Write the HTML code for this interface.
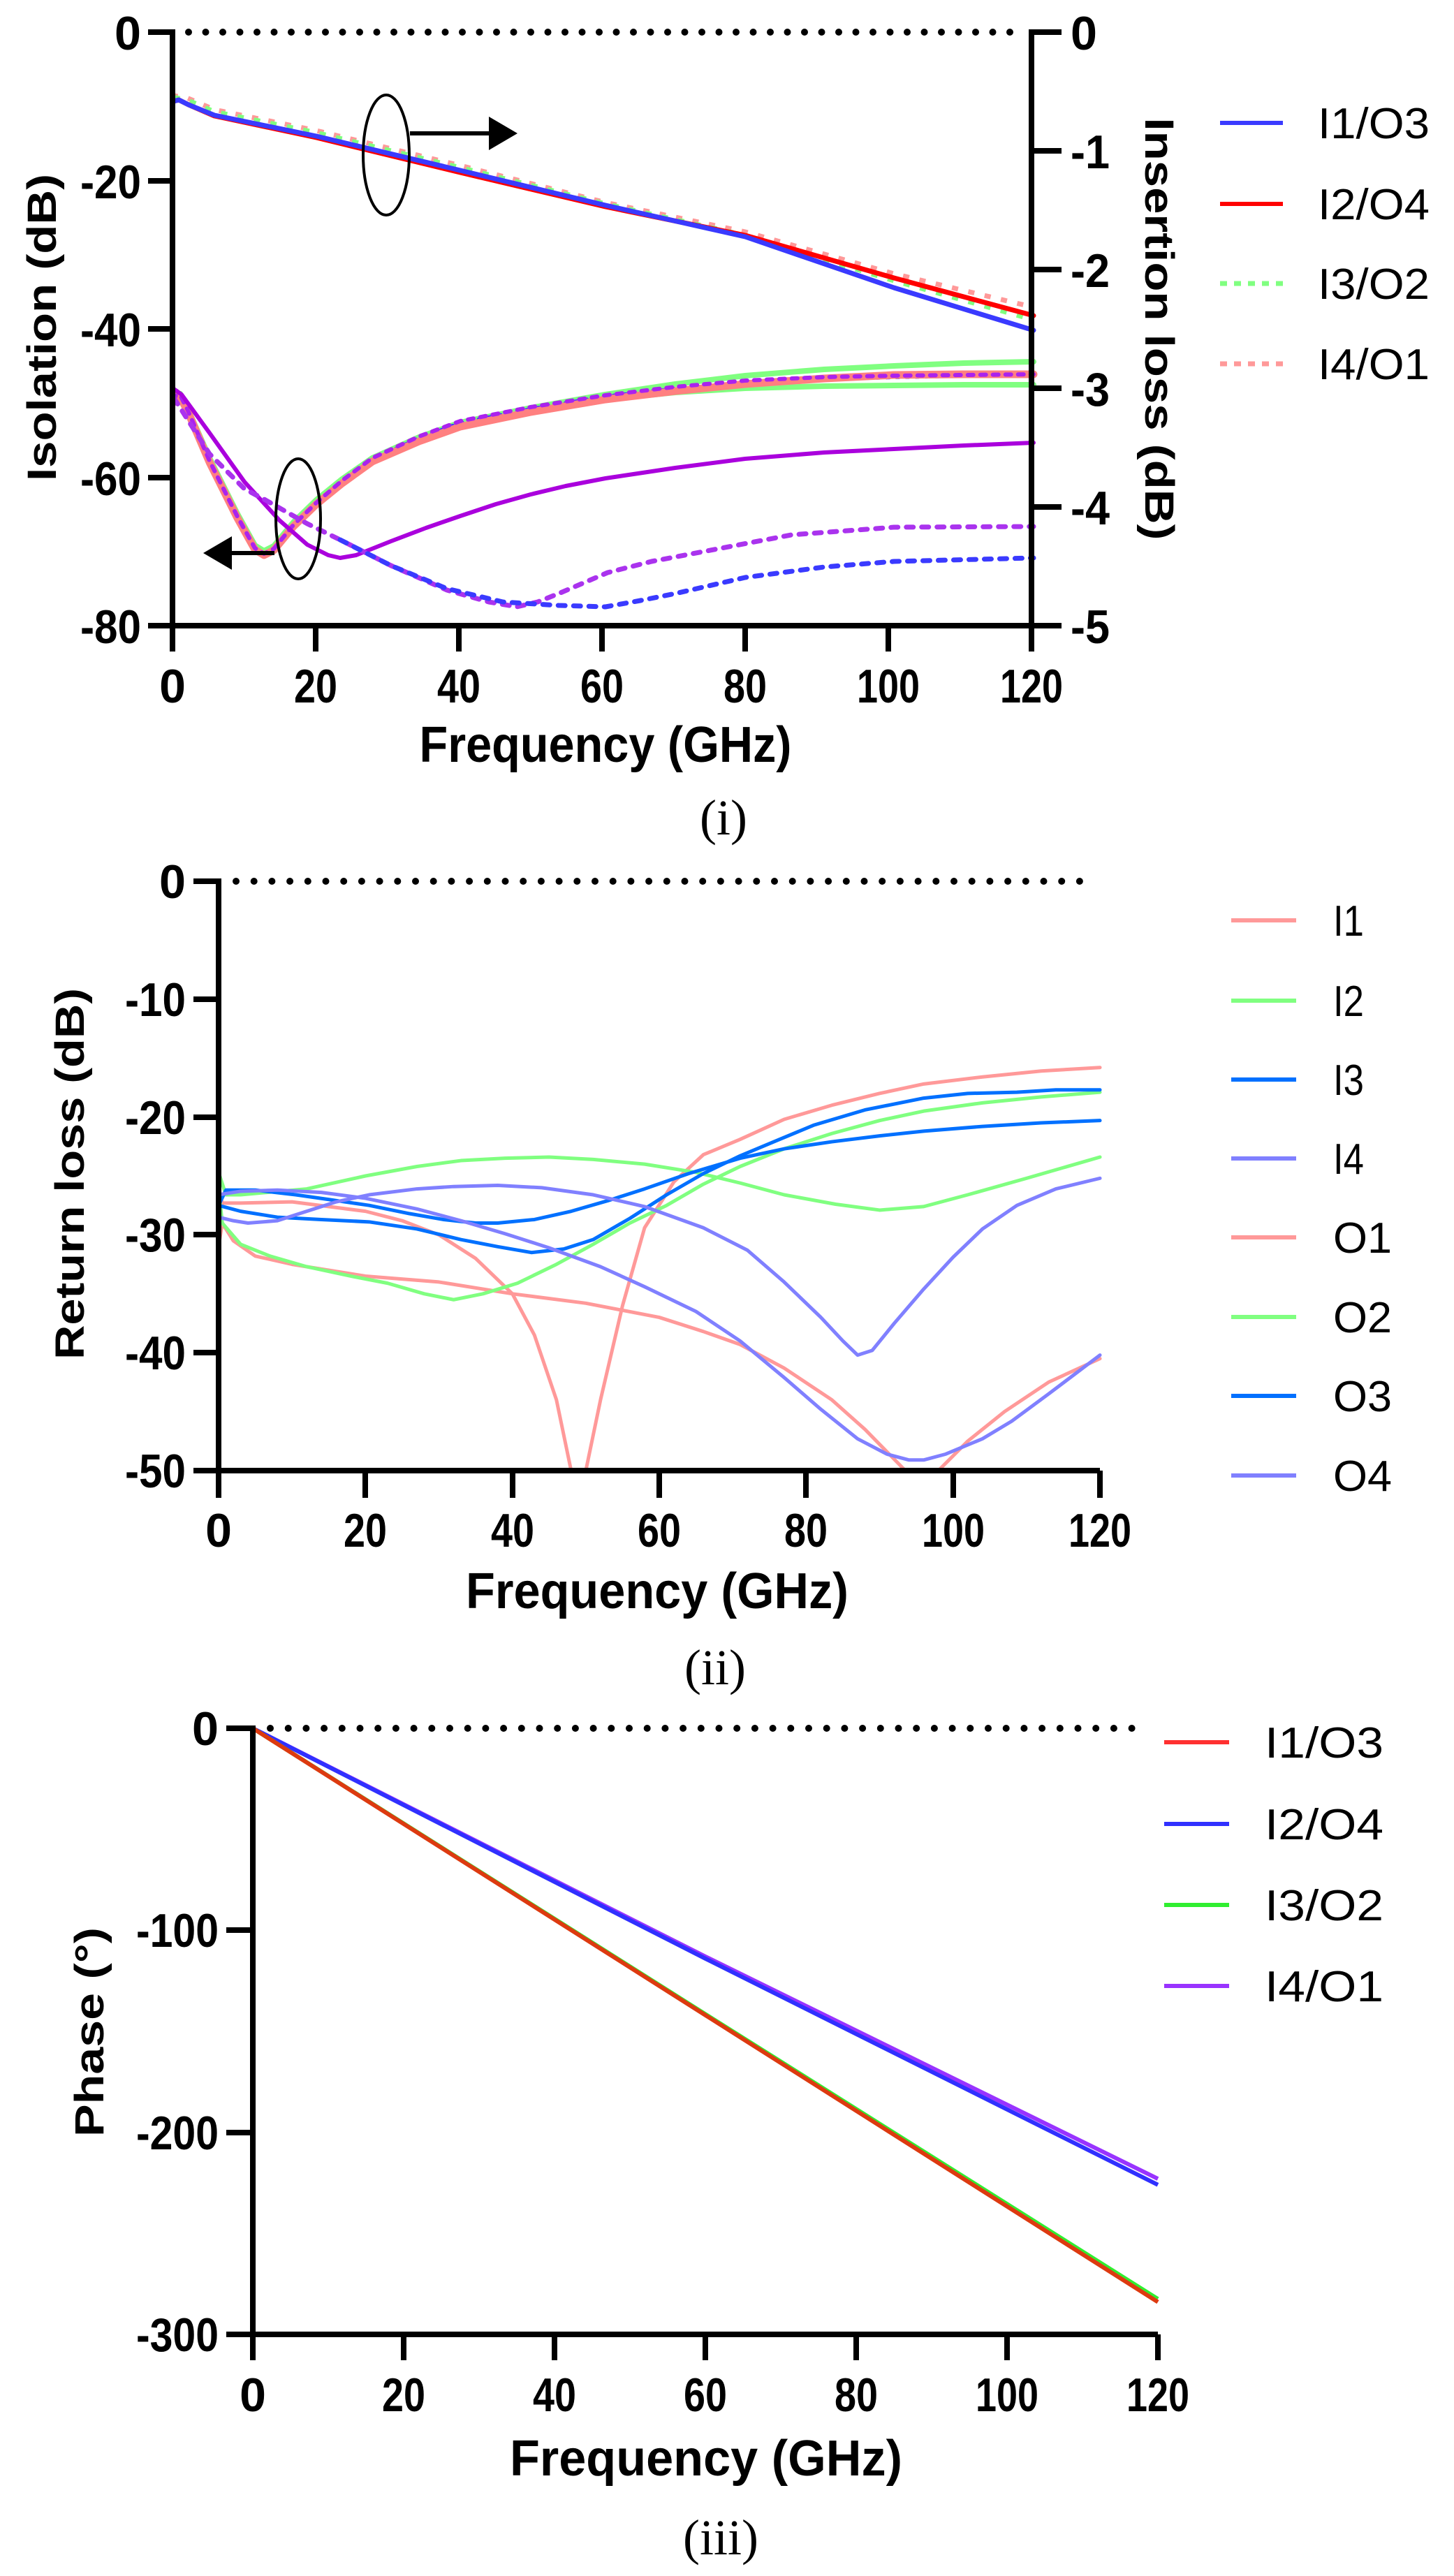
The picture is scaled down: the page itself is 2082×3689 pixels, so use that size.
<!DOCTYPE html>
<html><head><meta charset="utf-8"><style>
html,body{margin:0;padding:0;background:#fff}
svg{display:block}
.tk{font-family:"Liberation Sans",sans-serif;font-weight:bold;font-size:68px}
.lg{font-family:"Liberation Sans",sans-serif;font-size:62px}
.yl{font-family:"Liberation Sans",sans-serif;font-weight:bold;font-size:58px}
.xl{font-family:"Liberation Sans",sans-serif;font-weight:bold;font-size:72px}
.cap{font-family:"Liberation Serif",serif;font-size:72px}
</style></head><body>
<svg width="2082" height="3689" viewBox="0 0 2082 3689" xmlns="http://www.w3.org/2000/svg">
<rect width="2082" height="3689" fill="#fff"/>

<!-- ================= PLOT 1 ================= -->
<g fill="none" stroke-linejoin="round" stroke-linecap="round">
<polyline stroke="#ff9999" stroke-width="7" stroke-dasharray="2 22" stroke-linecap="square" points="249,137 270,141 307,157 453,187 659,237 867,290 1067,332 1280,392 1480,440"/>
<polyline stroke="#80ff80" stroke-width="7" stroke-dasharray="2 22" stroke-linecap="square" points="252,140 270,144 307,160 453,190 659,240 867,292 1067,337 1280,402 1480,458"/>
<polyline stroke="#ff0000" stroke-width="7" points="249,145 256,143 270,150 307,166 453,197 659,247 867,296 1067,337 1280,398 1480,452"/>
<polyline stroke="#3a3aff" stroke-width="7" points="249,145 256,143 270,150 307,165 453,195 659,244 867,294 1067,339 1280,412 1480,473"/>
<polyline stroke="#80ff80" stroke-width="8" points="249,572 252,564 258,564 270,588 300,656 340,736 365,781 378,789 392,782 420,748 453,716 490,686 533,656 600,628 659,607 760,588 867,572 967,562 1067,556 1180,553 1280,552 1380,551 1480,551"/>
<polyline stroke="#80ff80" stroke-width="8" points="249,572 252,564 258,564 270,588 300,656 340,736 365,781 378,789 392,782 420,748 453,716 490,686 533,656 600,626 659,605 760,584 867,565 967,550 1067,538 1180,529 1280,524 1380,520 1480,518"/>
<polyline stroke="#3a3aff" stroke-width="6" stroke-dasharray="4 10" points="249,574 252,566 258,566 270,590 300,660 340,740 365,785 378,793 392,786 420,752 453,720 490,690 533,658 600,628 659,606 760,586 867,568 967,557 1067,549 1180,543 1280,540 1480,536"/>
<polyline stroke="#ff8080" stroke-width="11" points="249,576 252,568 258,568 270,592 300,662 340,742 365,787 378,795 392,788 420,754 453,722 490,692 533,661 600,632 659,611 760,590 867,572 967,560 1067,550 1180,542 1280,537 1380,536 1480,536"/>
<polyline stroke="#aa22ee" stroke-width="6" stroke-dasharray="8 10" points="249,574 252,566 258,566 270,590 300,660 340,740 365,785 378,793 392,786 420,752 453,720 490,688 533,656 600,625 659,603 760,583 867,566 967,554 1067,545 1180,540 1280,538 1480,536"/>
<polyline stroke="#aa00dd" stroke-width="6" points="249,557 260,565 300,620 350,690 400,745 440,780 470,795 487,799 510,795 560,775 610,756 659,739 710,722 760,708 810,696 867,685 967,670 1067,657 1180,648 1280,643 1380,638 1480,634"/>
<polyline stroke="#aa33ee" stroke-width="7" stroke-dasharray="10 12" points="249,570 300,650 350,700 380,716 440,750 487,773 560,810 640,845 700,862 740,869 770,862 800,850 870,820 933,804 1033,785 1133,766 1280,755 1480,754"/>
<polyline stroke="#3a3aff" stroke-width="7" stroke-dasharray="10 12" points="487,773 560,810 640,843 720,862 800,867 867,869 917,860 967,850 1067,827 1180,812 1280,804 1480,799"/>
</g>
<line x1="270" y1="46" x2="1470" y2="46" stroke="#000" stroke-width="10" stroke-linecap="round" stroke-dasharray="0 24.5"/>
<g stroke="#000" stroke-width="8" fill="none">
<line x1="247" y1="42" x2="247" y2="933"/>
<line x1="1477" y1="42" x2="1477" y2="933"/>
<line x1="212" y1="896" x2="1520" y2="896"/>
<line x1="212" y1="46" x2="247" y2="46"/>
<line x1="212" y1="259" x2="247" y2="259"/>
<line x1="212" y1="471" x2="247" y2="471"/>
<line x1="212" y1="684" x2="247" y2="684"/>
<line x1="1477" y1="46" x2="1520" y2="46"/>
<line x1="1477" y1="216" x2="1520" y2="216"/>
<line x1="1477" y1="386" x2="1520" y2="386"/>
<line x1="1477" y1="556" x2="1520" y2="556"/>
<line x1="1477" y1="726" x2="1520" y2="726"/>
<line x1="452" y1="896" x2="452" y2="933"/>
<line x1="657" y1="896" x2="657" y2="933"/>
<line x1="862" y1="896" x2="862" y2="933"/>
<line x1="1067" y1="896" x2="1067" y2="933"/>
<line x1="1272" y1="896" x2="1272" y2="933"/>
</g>
<g stroke="#000" stroke-width="4" fill="none">
<ellipse cx="553" cy="222" rx="33" ry="86"/>
<ellipse cx="427" cy="743" rx="32" ry="86"/>
<line x1="587" y1="191" x2="710" y2="191" stroke-width="6"/>
<line x1="393" y1="792" x2="320" y2="792" stroke-width="6"/>
</g>
<polygon points="700,167 741,191 700,215" fill="#000"/>
<polygon points="332,768 291,792 332,816" fill="#000"/>
<g class="tk" text-anchor="end">
<text x="202" y="71" textLength="38" lengthAdjust="spacingAndGlyphs">0</text>
<text x="202" y="284" textLength="87" lengthAdjust="spacingAndGlyphs">-20</text>
<text x="202" y="496" textLength="87" lengthAdjust="spacingAndGlyphs">-40</text>
<text x="202" y="709" textLength="87" lengthAdjust="spacingAndGlyphs">-60</text>
<text x="202" y="921" textLength="87" lengthAdjust="spacingAndGlyphs">-80</text>
</g>
<g class="tk">
<text x="1533" y="71" textLength="38" lengthAdjust="spacingAndGlyphs">0</text>
<text x="1533" y="241" textLength="56" lengthAdjust="spacingAndGlyphs">-1</text>
<text x="1533" y="411" textLength="56" lengthAdjust="spacingAndGlyphs">-2</text>
<text x="1533" y="581" textLength="56" lengthAdjust="spacingAndGlyphs">-3</text>
<text x="1533" y="751" textLength="56" lengthAdjust="spacingAndGlyphs">-4</text>
<text x="1533" y="921" textLength="56" lengthAdjust="spacingAndGlyphs">-5</text>
</g>
<g class="tk" text-anchor="middle">
<text x="247" y="1006">0</text>
<text x="452" y="1006" textLength="62" lengthAdjust="spacingAndGlyphs">20</text>
<text x="657" y="1006" textLength="62" lengthAdjust="spacingAndGlyphs">40</text>
<text x="862" y="1006" textLength="62" lengthAdjust="spacingAndGlyphs">60</text>
<text x="1067" y="1006" textLength="62" lengthAdjust="spacingAndGlyphs">80</text>
<text x="1272" y="1006" textLength="90" lengthAdjust="spacingAndGlyphs">100</text>
<text x="1477" y="1006" textLength="90" lengthAdjust="spacingAndGlyphs">120</text>
</g>
<text class="xl" x="867" y="1091" text-anchor="middle" textLength="533" lengthAdjust="spacingAndGlyphs">Frequency (GHz)</text>
<text class="yl" transform="translate(80,469) rotate(-90)" text-anchor="middle" textLength="440" lengthAdjust="spacingAndGlyphs">Isolation (dB)</text>
<text class="yl" transform="translate(1640,471) rotate(90)" text-anchor="middle" textLength="605" lengthAdjust="spacingAndGlyphs">Insertion loss (dB)</text>
<text class="cap" x="1036" y="1195" text-anchor="middle">(i)</text>
<g stroke-width="6">
<line x1="1747" y1="176" x2="1837" y2="176" stroke="#3a3aff"/>
<line x1="1747" y1="292" x2="1837" y2="292" stroke="#ff0000"/>
<line x1="1747" y1="406" x2="1837" y2="406" stroke="#80ff80" stroke-width="7" stroke-dasharray="10 10"/>
<line x1="1747" y1="521" x2="1837" y2="521" stroke="#ff9999" stroke-width="7" stroke-dasharray="10 10"/>
</g>
<g class="lg">
<text x="1887" y="198" textLength="160" lengthAdjust="spacingAndGlyphs">I1/O3</text>
<text x="1887" y="314" textLength="160" lengthAdjust="spacingAndGlyphs">I2/O4</text>
<text x="1887" y="428" textLength="160" lengthAdjust="spacingAndGlyphs">I3/O2</text>
<text x="1887" y="543" textLength="160" lengthAdjust="spacingAndGlyphs">I4/O1</text>
</g>

<!-- ================= PLOT 2 ================= -->
<g transform="translate(313,1262) scale(10.517,16.88)" fill="none" stroke-width="5" stroke-linejoin="round" stroke-linecap="round">
<polyline vector-effect="non-scaling-stroke" stroke="#ff9999" points="0,26 0.5,27.3 3,27.3 10,27.2 20,28 25,28.8 30,30 35,32 40,35 43,38.5 46,44 48,50"/>
<polyline vector-effect="non-scaling-stroke" stroke="#ff9999" points="50,50 52,44 55,36 58,29.4 62,25.5 66,23.2 71,21.9 77,20.2 83.5,19 90,18 96,17.2 104,16.6 112,16.1 120,15.8"/>
<polyline vector-effect="non-scaling-stroke" stroke="#ff9999" points="0,31 0.5,29 2,30.5 5,31.8 10,32.5 20,33.5 30,34 40,35 50,35.8 60,37 66,38.2 71,39.3 77,41.3 83.5,44 88,46.5 93.5,50"/>
<polyline vector-effect="non-scaling-stroke" stroke="#ff9999" points="98,50 102,47.5 107,45 113,42.5 120,40.5"/>
<polyline vector-effect="non-scaling-stroke" stroke="#80ff80" points="0,24.7 1,26.6 3,26.6 12,26.1 20,25 27,24.2 33,23.7 39,23.5 45,23.4 51,23.6 58,24 65,24.7 71,25.6 77,26.6 84,27.4 90,27.9 96,27.6 102,26.6 110,25.2 120,23.4"/>
<polyline vector-effect="non-scaling-stroke" stroke="#80ff80" points="0,26 0.5,29 3,30.8 7,31.8 12,32.7 18,33.5 23,34.1 28,35 32,35.5 36,35 40.7,34.1 46,32.5 51,30.8 56,29 61,27.5 66,25.7 71,24.2 77,22.7 83.5,21.4 90,20.3 96,19.5 104,18.8 112,18.3 120,17.9"/>
<polyline vector-effect="non-scaling-stroke" stroke="#0070ff" points="0,27.5 1,26.2 5,26.2 10.5,26.6 15,27 20.5,27.5 26,28.2 30.6,28.7 35,29 38,29 43,28.7 48,28 53,27.1 58,26.1 64,24.8 71,23.5 77,22.7 83.5,22.1 90,21.6 96,21.2 104,20.8 112,20.5 120,20.3"/>
<polyline vector-effect="non-scaling-stroke" stroke="#0070ff" points="0,27.5 3,28 8,28.5 14,28.7 20.5,28.9 27,29.5 33,30.4 38,31 42.6,31.5 47,31.2 51,30.4 56,28.6 61,26.6 66,24.8 71,23.3 76,22 81,20.7 88,19.4 96,18.4 102,18 108.7,17.9 114,17.7 120,17.7"/>
<polyline vector-effect="non-scaling-stroke" stroke="#8080ff" points="0,28.5 2,28.8 4,29 8,28.8 12,28 16,27.2 20.5,26.6 27,26.1 32,25.9 38,25.8 44,26 51,26.6 58,27.6 66,29.4 72,31.3 77,34 82,37 85,39 87,40.2 89,39.8 92,37.5 96,34.6 100,31.9 104,29.5 108.7,27.5 114,26.1 120,25.2"/>
<polyline vector-effect="non-scaling-stroke" stroke="#8080ff" points="0,26.6 3,26.3 8,26.2 14,26.4 20,26.9 27,27.8 33,28.8 39,29.9 45,31.1 52,32.7 58,34.4 65,36.5 71,39 77,42.1 82,44.8 87,47.3 91,48.6 94,49.1 96,49.1 99,48.6 104,47.3 108,45.8 113,43.5 120,40.2"/>
</g>
<line x1="338" y1="1262" x2="1546" y2="1262" stroke="#000" stroke-width="10" stroke-linecap="round" stroke-dasharray="0 25.7"/>
<g stroke="#000" stroke-width="8" fill="none">
<line x1="313" y1="1258" x2="313" y2="2145"/>
<line x1="277" y1="2106" x2="1575" y2="2106"/>
<line x1="1575" y1="2106" x2="1575" y2="2145"/>
<line x1="277" y1="1262" x2="313" y2="1262"/>
<line x1="277" y1="1431" x2="313" y2="1431"/>
<line x1="277" y1="1600" x2="313" y2="1600"/>
<line x1="277" y1="1768" x2="313" y2="1768"/>
<line x1="277" y1="1937" x2="313" y2="1937"/>
<line x1="523" y1="2106" x2="523" y2="2145"/>
<line x1="734" y1="2106" x2="734" y2="2145"/>
<line x1="944" y1="2106" x2="944" y2="2145"/>
<line x1="1154" y1="2106" x2="1154" y2="2145"/>
<line x1="1365" y1="2106" x2="1365" y2="2145"/>
</g>
<g class="tk" text-anchor="end">
<text x="266" y="1286" textLength="38" lengthAdjust="spacingAndGlyphs">0</text>
<text x="266" y="1455" textLength="87" lengthAdjust="spacingAndGlyphs">-10</text>
<text x="266" y="1624" textLength="87" lengthAdjust="spacingAndGlyphs">-20</text>
<text x="266" y="1792" textLength="87" lengthAdjust="spacingAndGlyphs">-30</text>
<text x="266" y="1961" textLength="87" lengthAdjust="spacingAndGlyphs">-40</text>
<text x="266" y="2130" textLength="87" lengthAdjust="spacingAndGlyphs">-50</text>
</g>
<g class="tk" text-anchor="middle">
<text x="313" y="2215">0</text>
<text x="523" y="2215" textLength="62" lengthAdjust="spacingAndGlyphs">20</text>
<text x="734" y="2215" textLength="62" lengthAdjust="spacingAndGlyphs">40</text>
<text x="944" y="2215" textLength="62" lengthAdjust="spacingAndGlyphs">60</text>
<text x="1154" y="2215" textLength="62" lengthAdjust="spacingAndGlyphs">80</text>
<text x="1365" y="2215" textLength="90" lengthAdjust="spacingAndGlyphs">100</text>
<text x="1575" y="2215" textLength="90" lengthAdjust="spacingAndGlyphs">120</text>
</g>
<text class="xl" x="941" y="2303" text-anchor="middle" textLength="548" lengthAdjust="spacingAndGlyphs">Frequency (GHz)</text>
<text class="yl" transform="translate(120,1681) rotate(-90)" text-anchor="middle" textLength="532" lengthAdjust="spacingAndGlyphs">Return loss (dB)</text>
<text class="cap" x="1024" y="2412" text-anchor="middle">(ii)</text>
<g stroke-width="6">
<line x1="1763" y1="1318" x2="1856" y2="1318" stroke="#ff9999"/>
<line x1="1763" y1="1433" x2="1856" y2="1433" stroke="#80ff80"/>
<line x1="1763" y1="1546" x2="1856" y2="1546" stroke="#0070ff"/>
<line x1="1763" y1="1659" x2="1856" y2="1659" stroke="#8080ff"/>
<line x1="1763" y1="1772" x2="1856" y2="1772" stroke="#ff9999"/>
<line x1="1763" y1="1886" x2="1856" y2="1886" stroke="#80ff80"/>
<line x1="1763" y1="1999" x2="1856" y2="1999" stroke="#0070ff"/>
<line x1="1763" y1="2113" x2="1856" y2="2113" stroke="#8080ff"/>
</g>
<g class="lg">
<text x="1909" y="1340" textLength="44" lengthAdjust="spacingAndGlyphs">I1</text>
<text x="1909" y="1455" textLength="44" lengthAdjust="spacingAndGlyphs">I2</text>
<text x="1909" y="1568" textLength="44" lengthAdjust="spacingAndGlyphs">I3</text>
<text x="1909" y="1681" textLength="44" lengthAdjust="spacingAndGlyphs">I4</text>
<text x="1909" y="1794" textLength="84" lengthAdjust="spacingAndGlyphs">O1</text>
<text x="1909" y="1908" textLength="84" lengthAdjust="spacingAndGlyphs">O2</text>
<text x="1909" y="2021" textLength="84" lengthAdjust="spacingAndGlyphs">O3</text>
<text x="1909" y="2135" textLength="84" lengthAdjust="spacingAndGlyphs">O4</text>
</g>

<!-- ================= PLOT 3 ================= -->
<g transform="translate(362,2475) scale(10.8,2.893)" fill="none">
<polyline vector-effect="non-scaling-stroke" stroke="#9933ff" stroke-width="6" points="0,0 60,113 120,223"/>
<polyline vector-effect="non-scaling-stroke" stroke="#3030ff" stroke-width="6" points="0,0 60,114 120,226"/>
<polyline vector-effect="non-scaling-stroke" stroke="#30ee30" stroke-width="6" points="0,0 60,141.5 120,282.5"/>
<polyline vector-effect="non-scaling-stroke" stroke="#dd3a10" stroke-width="6" points="0,0 60,142 120,284"/>
</g>
<line x1="387" y1="2475" x2="1634" y2="2475" stroke="#000" stroke-width="10" stroke-linecap="round" stroke-dasharray="0 25.7"/>
<g stroke="#000" stroke-width="8" fill="none">
<line x1="362" y1="2471" x2="362" y2="3380"/>
<line x1="324" y1="3343" x2="1658" y2="3343"/>
<line x1="1658" y1="3343" x2="1658" y2="3380"/>
<line x1="324" y1="2475" x2="362" y2="2475"/>
<line x1="324" y1="2764" x2="362" y2="2764"/>
<line x1="324" y1="3054" x2="362" y2="3054"/>
<line x1="578" y1="3343" x2="578" y2="3380"/>
<line x1="794" y1="3343" x2="794" y2="3380"/>
<line x1="1010" y1="3343" x2="1010" y2="3380"/>
<line x1="1226" y1="3343" x2="1226" y2="3380"/>
<line x1="1442" y1="3343" x2="1442" y2="3380"/>
</g>
<g class="tk" text-anchor="end">
<text x="313" y="2499" textLength="38" lengthAdjust="spacingAndGlyphs">0</text>
<text x="313" y="2788" textLength="118" lengthAdjust="spacingAndGlyphs">-100</text>
<text x="313" y="3078" textLength="118" lengthAdjust="spacingAndGlyphs">-200</text>
<text x="313" y="3367" textLength="118" lengthAdjust="spacingAndGlyphs">-300</text>
</g>
<g class="tk" text-anchor="middle">
<text x="362" y="3453">0</text>
<text x="578" y="3453" textLength="62" lengthAdjust="spacingAndGlyphs">20</text>
<text x="794" y="3453" textLength="62" lengthAdjust="spacingAndGlyphs">40</text>
<text x="1010" y="3453" textLength="62" lengthAdjust="spacingAndGlyphs">60</text>
<text x="1226" y="3453" textLength="62" lengthAdjust="spacingAndGlyphs">80</text>
<text x="1442" y="3453" textLength="90" lengthAdjust="spacingAndGlyphs">100</text>
<text x="1658" y="3453" textLength="90" lengthAdjust="spacingAndGlyphs">120</text>
</g>
<text class="xl" x="1011" y="3545" text-anchor="middle" textLength="562" lengthAdjust="spacingAndGlyphs">Frequency (GHz)</text>
<text class="yl" transform="translate(148,2910) rotate(-90)" text-anchor="middle" textLength="300" lengthAdjust="spacingAndGlyphs">Phase (°)</text>
<text class="cap" x="1032" y="3658" text-anchor="middle">(iii)</text>
<g stroke-width="6">
<line x1="1667" y1="2495" x2="1760" y2="2495" stroke="#ff3030"/>
<line x1="1667" y1="2612" x2="1760" y2="2612" stroke="#3030ff"/>
<line x1="1667" y1="2728" x2="1760" y2="2728" stroke="#30ee30"/>
<line x1="1667" y1="2844" x2="1760" y2="2844" stroke="#9933ff"/>
</g>
<g class="lg">
<text x="1811" y="2517" textLength="170" lengthAdjust="spacingAndGlyphs">I1/O3</text>
<text x="1811" y="2634" textLength="170" lengthAdjust="spacingAndGlyphs">I2/O4</text>
<text x="1811" y="2750" textLength="170" lengthAdjust="spacingAndGlyphs">I3/O2</text>
<text x="1811" y="2866" textLength="170" lengthAdjust="spacingAndGlyphs">I4/O1</text>
</g>
</svg>
</body></html>
